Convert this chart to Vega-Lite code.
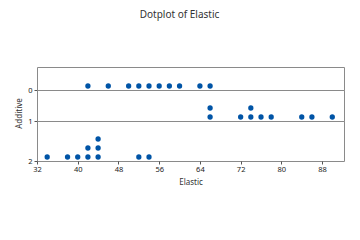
{
  "$schema": "https://vega.github.io/schema/vega-lite/v6.json",
  "background": "white",
  "padding": {"left": 14, "top": 9, "right": 16, "bottom": 5},
  "bounds": "flush",
  "title": {"text": "Dotplot of Elastic", "fontSize": 10, "font": "Noto Sans", "fontWeight": "normal", "color": "#333333", "anchor": "middle", "offset": 47},
  "config": {
    "view": {"stroke": "#8a8a8a", "strokeWidth": 1},
    "font": "Noto Sans",
    "axis": {"labelFont": "Noto Sans", "titleFont": "Noto Sans", "labelFontSize": 7.5, "titleFontSize": 8, "labelColor": "#222222", "titleColor": "#333333", "titleFontWeight": "normal", "tickColor": "#555555", "tickSize": 3, "domain": false, "grid": false}
  },
  "data": {"values": [
    {"Elastic": 42, "Additive": 0}, {"Elastic": 46, "Additive": 0}, {"Elastic": 50, "Additive": 0},
    {"Elastic": 52, "Additive": 0}, {"Elastic": 54, "Additive": 0}, {"Elastic": 56, "Additive": 0},
    {"Elastic": 58, "Additive": 0}, {"Elastic": 60, "Additive": 0}, {"Elastic": 64, "Additive": 0},
    {"Elastic": 66, "Additive": 0},
    {"Elastic": 66, "Additive": 1}, {"Elastic": 66, "Additive": 1}, {"Elastic": 72, "Additive": 1},
    {"Elastic": 74, "Additive": 1}, {"Elastic": 74, "Additive": 1}, {"Elastic": 76, "Additive": 1},
    {"Elastic": 78, "Additive": 1}, {"Elastic": 84, "Additive": 1}, {"Elastic": 86, "Additive": 1},
    {"Elastic": 90, "Additive": 1},
    {"Elastic": 34, "Additive": 2}, {"Elastic": 38, "Additive": 2}, {"Elastic": 40, "Additive": 2},
    {"Elastic": 42, "Additive": 2}, {"Elastic": 42, "Additive": 2}, {"Elastic": 44, "Additive": 2},
    {"Elastic": 44, "Additive": 2}, {"Elastic": 44, "Additive": 2}, {"Elastic": 52, "Additive": 2},
    {"Elastic": 54, "Additive": 2}
  ]},
  "transform": [
    {"window": [{"op": "row_number", "as": "Stack"}], "groupby": ["Additive", "Elastic"]}
  ],
  "spacing": 0,
  "vconcat": [
    {
      "width": 307, "height": 23,
      "transform": [{"filter": "datum.Additive == 0"}],
      "mark": {"type": "circle", "size": 28, "opacity": 1, "color": "#0054A6"},
      "encoding": {
        "x": {"field": "Elastic", "type": "quantitative", "scale": {"domain": [32, 92.3], "nice": false, "zero": false}, "axis": null},
        "y": {"field": "Stack", "type": "quantitative", "scale": {"domain": [0.556, 3.111], "nice": false, "zero": false},
              "axis": {"values": [0.556], "labelExpr": "'0'", "title": null}}
      }
    },
    {
      "width": 307, "height": 31,
      "transform": [{"filter": "datum.Additive == 1"}],
      "mark": {"type": "circle", "size": 28, "opacity": 1, "color": "#0054A6"},
      "encoding": {
        "x": {"field": "Elastic", "type": "quantitative", "scale": {"domain": [32, 92.3], "nice": false, "zero": false}, "axis": null},
        "y": {"field": "Stack", "type": "quantitative", "scale": {"domain": [0.556, 4], "nice": false, "zero": false},
              "axis": {"values": [0.556], "labelExpr": "'1'", "title": "Additive", "titleY": 23, "titleX": -14}}
      }
    },
    {
      "width": 307, "height": 40,
      "transform": [{"filter": "datum.Additive == 2"}],
      "mark": {"type": "circle", "size": 28, "opacity": 1, "color": "#0054A6"},
      "encoding": {
        "x": {"field": "Elastic", "type": "quantitative", "scale": {"domain": [32, 92.3], "nice": false, "zero": false},
              "axis": {"values": [32, 40, 48, 56, 64, 72, 80, 88], "title": "Elastic", "labelPadding": 1, "titlePadding": 6, "labelFlush": false}},
        "y": {"field": "Stack", "type": "quantitative", "scale": {"domain": [0.556, 5], "nice": false, "zero": false},
              "axis": {"values": [0.556], "labelExpr": "'2'", "title": null}}
      }
    }
  ]
}
